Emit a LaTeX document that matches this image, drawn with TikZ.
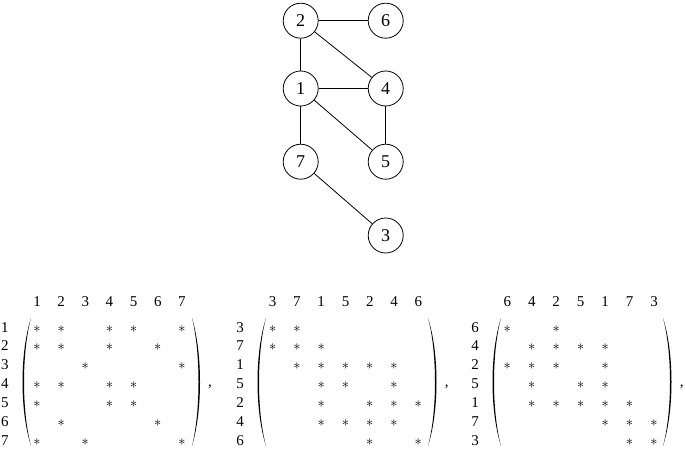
\documentclass[tikz,border=0pt]{standalone}
\usepackage{fontspec}
\setmainfont{Liberation Serif}
\begin{document}
\begin{tikzpicture}[x=1pt,y=-1pt,
  vtx/.style={circle,draw,line width=0.8pt,minimum size=35pt,inner sep=0pt,font=\fontsize{18}{18}\selectfont},
  edge/.style={line width=0.8pt},
  lbl/.style={anchor=base,inner sep=0pt,font=\fontsize{15}{15}\selectfont},
  ast/.style={anchor=base,inner sep=0pt,font=\fontsize{15}{15}\selectfont},
  par/.style={fill=black,draw=none}]
\useasboundingbox (0,0) rectangle (685,465);
% graph
\node[vtx] (v2) at (300.7,20.7) {2};
\node[vtx] (v6) at (385.7,20.7) {6};
\node[vtx] (v1) at (300.7,88.5) {1};
\node[vtx] (v4) at (385.7,88.5) {4};
\node[vtx] (v7) at (300.7,161.7) {7};
\node[vtx] (v5) at (385.7,161.7) {5};
\node[vtx] (v3) at (385.7,235.5) {3};
\draw[edge] (v2) -- (v6);
\draw[edge] (v2) -- (v1);
\draw[edge] (v2) -- (v4);
\draw[edge] (v1) -- (v4);
\draw[edge] (v1) -- (v5);
\draw[edge] (v4) -- (v5);
\draw[edge] (v1) -- (v7);
\draw[edge] (v7) -- (v3);
% matrix 1
\foreach \lab [count=\k] in {1,2,3,4,5,6,7} {
  \node[lbl] (m1c\k) at ({37+24.15*(\k-1)},306.5) {\lab};
  \node[lbl] (m1r\k) at (5,{332+18.9*(\k-1)}) {\lab};
}
\foreach \i/\cols in {1/{1,2,4,5,7},2/{1,2,4,6},3/{3,7},4/{1,2,4,5},5/{1,4,5},6/{2,6},7/{1,3,7}} {
  \foreach \c in \cols {
    \node[ast] (m1e\i\c) at ({37+24.15*(\c-1)},{332+18.9*(\i-1)}) {$\ast$};
  }
}
\fill[par] (31,318) .. controls (19.67,353) and (19.67,411) .. (31,446) .. controls (21.67,411) and (21.67,353) .. cycle;
\fill[par] (192,318) .. controls (202.67,353) and (202.67,411) .. (192,446) .. controls (200.67,411) and (200.67,353) .. cycle;
\node[lbl] (m1comma) at (210,386) {,};
% matrix 2
\foreach \lab [count=\k] in {3,7,1,5,2,4,6} {
  \node[lbl] (m2c\k) at ({272.7+24.27*(\k-1)},306.5) {\lab};
  \node[lbl] (m2r\k) at (240,{332+18.9*(\k-1)}) {\lab};
}
\foreach \i/\cols in {1/{1,2},2/{1,2,3},3/{2,3,4,5,6},4/{3,4,6},5/{3,5,6,7},6/{3,4,5,6},7/{5,7}} {
  \foreach \c in \cols {
    \node[ast] (m2e\i\c) at ({272.7+24.27*(\c-1)},{332+18.9*(\i-1)}) {$\ast$};
  }
}
\fill[par] (266,318) .. controls (254.67,353) and (254.67,411) .. (266,446) .. controls (256.67,411) and (256.67,353) .. cycle;
\fill[par] (428,318) .. controls (439.33,353) and (439.33,411) .. (428,446) .. controls (437.33,411) and (437.33,353) .. cycle;
\node[lbl] (m2comma) at (446.7,386) {,};
% matrix 3
\foreach \lab [count=\k] in {6,4,2,5,1,7,3} {
  \node[lbl] (m3c\k) at ({507.3+24.45*(\k-1)},306.5) {\lab};
  \node[lbl] (m3r\k) at (475,{332+18.9*(\k-1)}) {\lab};
}
\foreach \i/\cols in {1/{1,3},2/{2,3,4,5},3/{1,2,3,5},4/{2,4,5},5/{2,3,4,5,6},6/{5,6,7},7/{6,7}} {
  \foreach \c in \cols {
    \node[ast] (m3e\i\c) at ({507.3+24.45*(\c-1)},{332+18.9*(\i-1)}) {$\ast$};
  }
}
\fill[par] (501,318) .. controls (489.67,353) and (489.67,411) .. (501,446) .. controls (491.67,411) and (491.67,353) .. cycle;
\fill[par] (663,318) .. controls (674.33,353) and (674.33,411) .. (663,446) .. controls (672.33,411) and (672.33,353) .. cycle;
\node[lbl] (m3comma) at (681.7,386) {,};
\end{tikzpicture}
\end{document}
